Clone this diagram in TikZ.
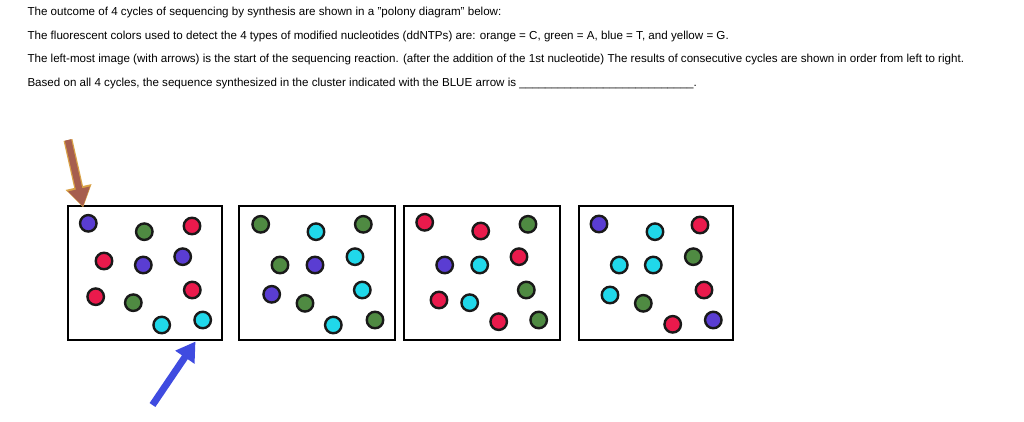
\documentclass[tikz,border=0pt]{standalone}
\usepackage{fontspec}
\setmainfont{Liberation Sans}
\usetikzlibrary{arrows.meta}
\definecolor{cpur}{HTML}{5A3DD2}
\definecolor{cgrn}{HTML}{4F8A42}
\definecolor{cred}{HTML}{EA1A4C}
\definecolor{ccya}{HTML}{20D8EA}
\definecolor{cbrown}{HTML}{A65E4E}
\definecolor{cbrownedge}{HTML}{D9A248}
\definecolor{cblue}{HTML}{3F4BE0}
\tikzset{
  txt/.style={anchor=base west, inner sep=0pt, font=\fontsize{11.6pt}{13pt}\selectfont},
  panel/.style={draw=black, line width=2pt},
  dot/.style={circle, draw=black!90, line width=2.4pt, minimum size=16.5pt, inner sep=0pt},
  P/.style={dot, fill=cpur}, G/.style={dot, fill=cgrn}, R/.style={dot, fill=cred}, C/.style={dot, fill=ccya},
}
\begin{document}
\begin{tikzpicture}[x=1pt,y=-1pt]
\useasboundingbox (0,0) rectangle (1024,421);
\node[txt] (t1) at (27.3,15.7) {The outcome of 4 cycles of sequencing by synthesis are shown in a "polony diagram" below:};
\node[txt] (t2) at (27.3,39.3) {The fluorescent colors used to detect the 4 types of modified nucleotides (ddNTPs) are: orange = C, green = A, blue = T, and yellow = G.};
\node[txt] (t3) at (27.3,62.7) {The left-most image (with arrows) is the start of the sequencing reaction. (after the addition of the 1st nucleotide) The results of consecutive cycles are shown in order from left to right.};
\node[txt] (t4) at (27.3,86) {Based on all 4 cycles, the sequence synthesized in the cluster indicated with the BLUE arrow is \_\_\_\_\_\_\_\_\_\_\_\_\_\_\_\_\_\_\_\_\_\_\_\_\_\_\_.};
% panels
\draw[panel] (67.5,205.5) rectangle (222,340);
\draw[panel] (239,205.5) rectangle (395,340);
\draw[panel] (404,205.5) rectangle (560,339.5);
\draw[panel] (578.5,205.5) rectangle (733,339.5);
% panel 1
\node[P] (a1) at (88.3,223.3) {};
\node[G] (a2) at (144.3,231.7) {};
\node[R] (a3) at (192,226) {};
\node[R] (a4) at (104,261) {};
\node[P] (a5) at (143.3,265) {};
\node[P] (a6) at (182.7,256.7) {};
\node[R] (a7) at (95.7,296.7) {};
\node[G] (a8) at (133.3,302.7) {};
\node[R] (a9) at (192.3,290) {};
\node[C] (a10) at (161.7,325) {};
\node[C] (a11) at (202.7,320) {};
% panel 2
\node[G] (b1) at (260.7,224.3) {};
\node[C] (b2) at (316,231.7) {};
\node[G] (b3) at (363.3,224.3) {};
\node[G] (b4) at (280,265) {};
\node[P] (b5) at (315,265) {};
\node[C] (b6) at (355,256.7) {};
\node[P] (b7) at (271.7,294.3) {};
\node[G] (b8) at (305,303.3) {};
\node[C] (b9) at (362.3,290) {};
\node[C] (b10) at (333.3,325) {};
\node[G] (b11) at (375,320) {};
% panel 3
\node[R] (c1) at (424.7,222.3) {};
\node[R] (c2) at (480.7,231) {};
\node[G] (c3) at (528,224.3) {};
\node[P] (c4) at (444.7,265) {};
\node[C] (c5) at (479.7,265) {};
\node[R] (c6) at (519,256.7) {};
\node[R] (c7) at (439,300) {};
\node[C] (c8) at (469.7,302.7) {};
\node[G] (c9) at (526.3,290) {};
\node[R] (c10) at (498.7,321.7) {};
\node[G] (c11) at (538.7,320) {};
% panel 4
\node[P] (d1) at (599,224) {};
\node[C] (d2) at (655,231.7) {};
\node[R] (d3) at (700,225) {};
\node[C] (d4) at (619.3,265) {};
\node[C] (d5) at (653.3,265) {};
\node[G] (d6) at (693.3,256.7) {};
\node[C] (d7) at (610,295) {};
\node[G] (d8) at (643.3,303.3) {};
\node[R] (d9) at (704,290) {};
\node[R] (d10) at (672.7,324.3) {};
\node[P] (d11) at (713.3,320) {};
% arrows
\coordinate (brtail) at (68,140);
\coordinate (brtip) at (83,206.5);
\coordinate (bltail) at (152.5,405);
\coordinate (bltip) at (195.5,341.5);
\draw[cbrownedge, line width=9pt, -{Triangle[length=21pt,width=25pt]}, shorten >=-1pt] (brtail) -- (brtip);
\draw[cbrown, line width=6.5pt, -{Triangle[length=18pt,width=21pt]}] (brtail) -- (brtip);
\draw[cblue, line width=7pt, -{Triangle[length=19pt,width=22pt]}] (bltail) -- (bltip);
\end{tikzpicture}
\end{document}
